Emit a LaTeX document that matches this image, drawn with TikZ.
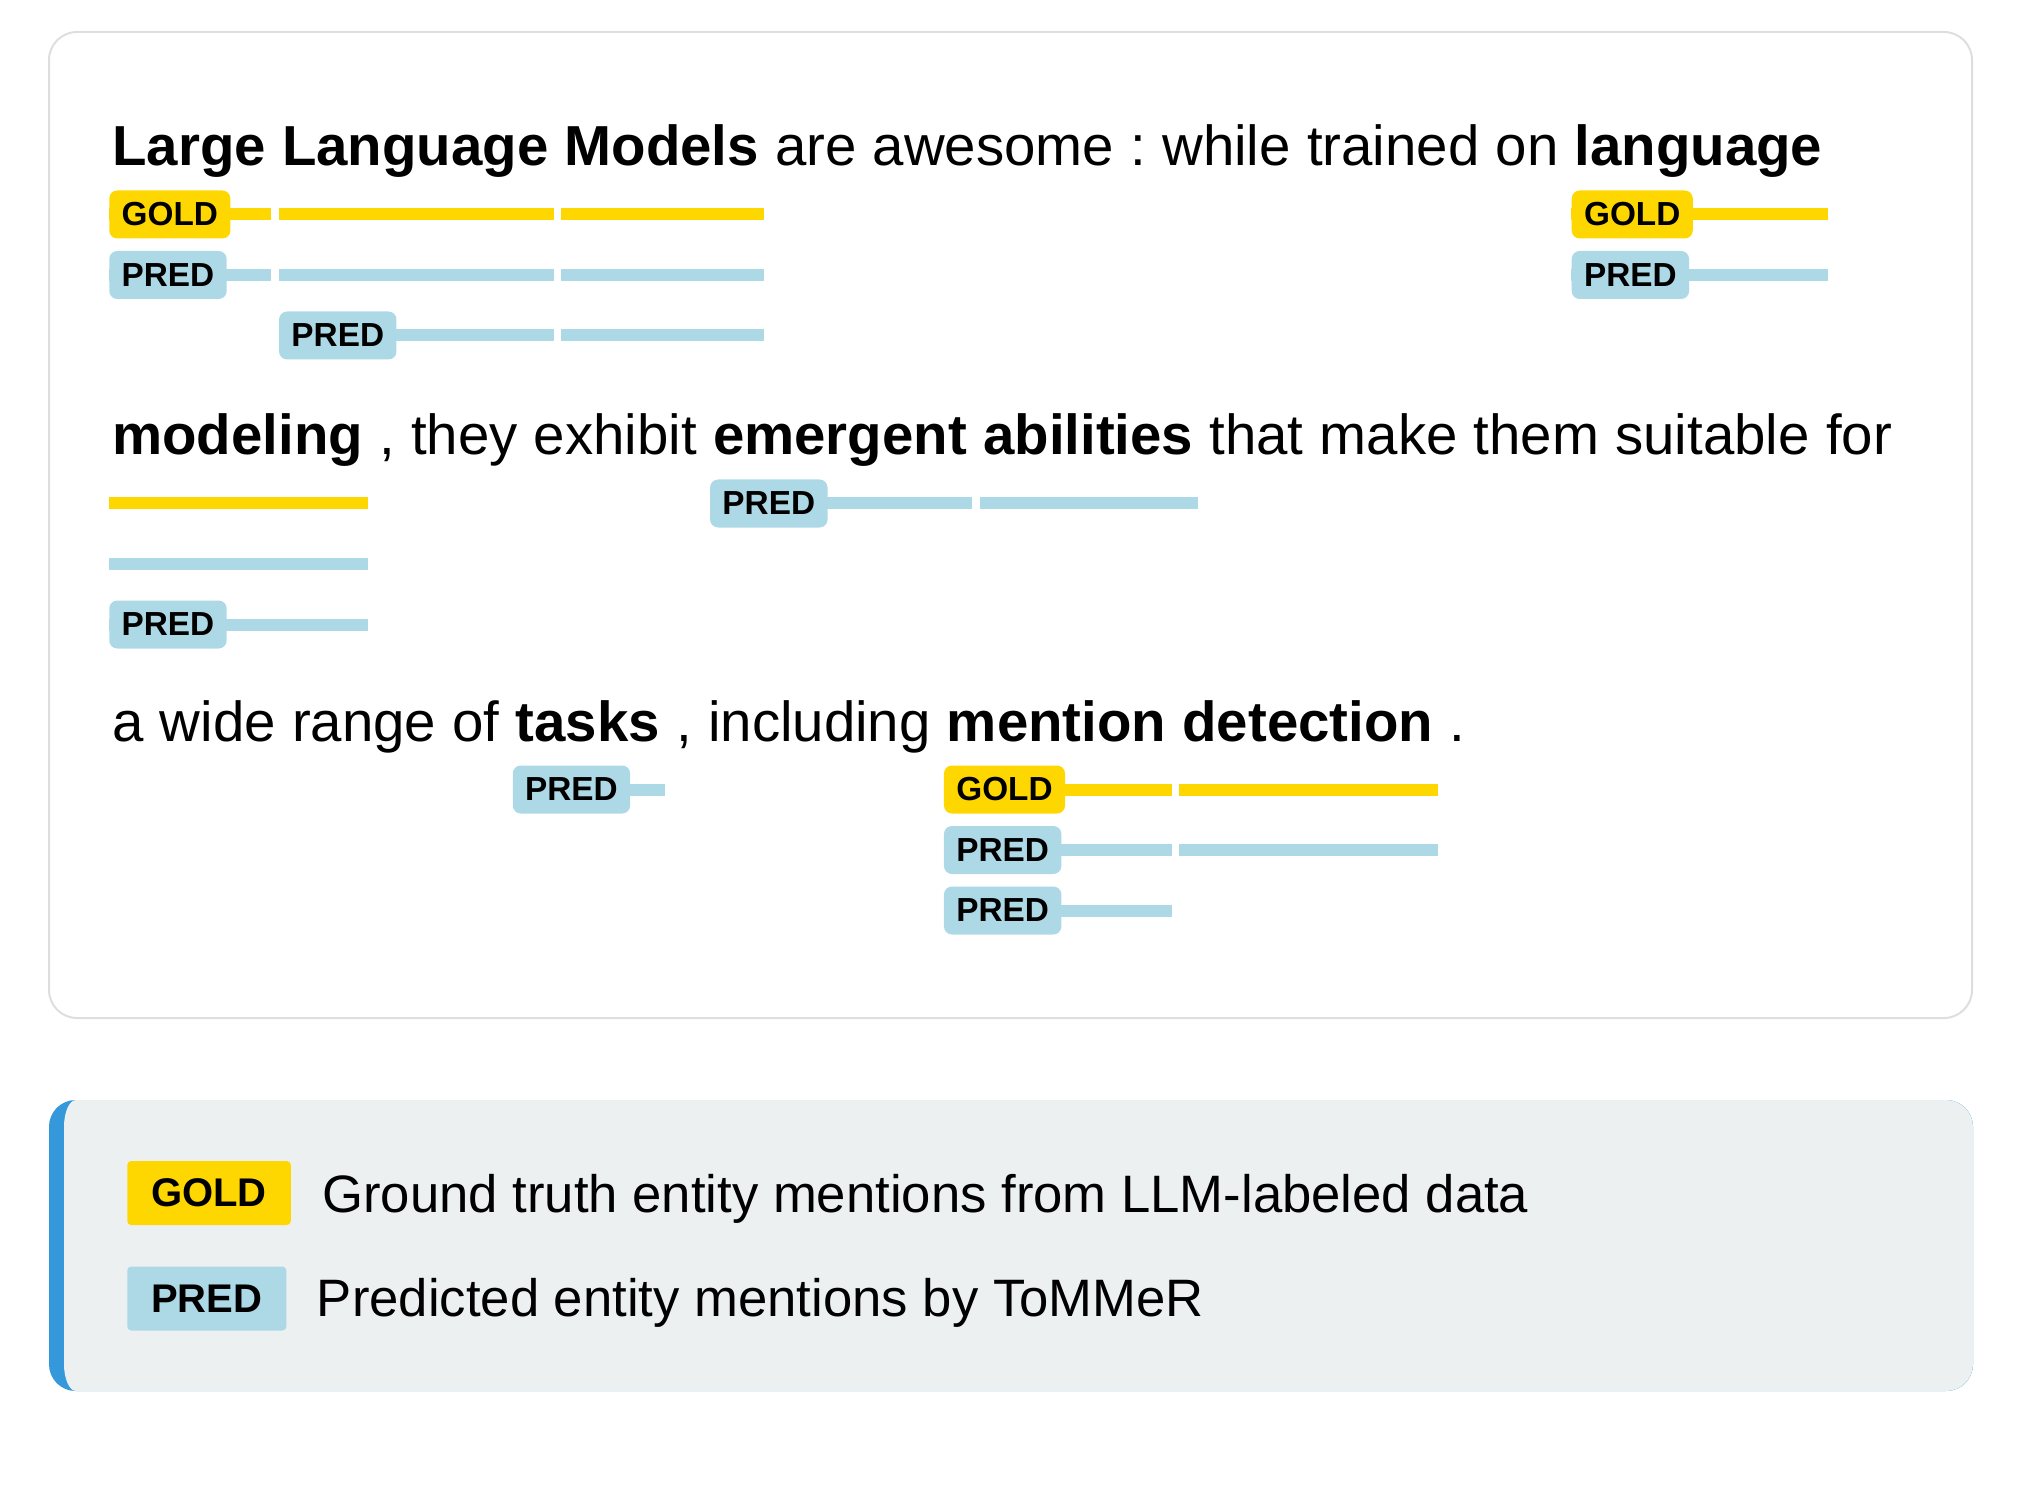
\documentclass[tikz,border=0pt]{standalone}
\usepackage{fontspec}
\setmainfont{Liberation Sans}
\usetikzlibrary{positioning}

\definecolor{goldc}{HTML}{FFD700}
\definecolor{predc}{HTML}{ADD8E6}
\definecolor{legblue}{HTML}{3498DB}
\definecolor{leggray}{HTML}{ECF0F1}
\definecolor{boxgray}{HTML}{DEDEDE}

\newcommand\txtfont{\fontsize{42.3pt}{50pt}\selectfont}
\newcommand\tagfont{\fontsize{25pt}{30pt}\selectfont\bfseries}
\newcommand\legtagfont{\fontsize{30pt}{36pt}\selectfont\bfseries}
\newcommand\legfont{\fontsize{39.5pt}{46pt}\selectfont}
\newcommand\wsp{11.76pt}
\newcommand\rowA{48.5}
\newcommand\rowB{109}
\newcommand\rowC{169.5}

% bar under one token: style, token, row
\newcommand\mbar[3]{\draw[#1] ([shift={(-3,#3)}]#2.base west) -- ([shift={(5,#3)}]#2.base east);}

\tikzset{
  wd/.style={inner sep=0pt, font=\txtfont},
  bwd/.style={inner sep=0pt, font=\txtfont\bfseries},
  goldline/.style={draw=goldc, line width=9pt},
  predline/.style={draw=predc, line width=9pt},
  goldtag/.style={fill=goldc, rounded corners=6pt, font=\tagfont, inner xsep=9.3pt, inner ysep=0pt, minimum height=36pt, anchor=west},
  predtag/.style={goldtag, fill=predc},
  leggold/.style={fill=goldc, rounded corners=3pt, font=\legtagfont, inner xsep=18pt, inner ysep=0pt, minimum height=48pt, anchor=west},
  legpred/.style={leggold, fill=predc},
  legtxt/.style={inner sep=0pt, font=\legfont, anchor=base west}
}

\begin{document}
\begin{tikzpicture}[x=0.75pt, y=-0.75pt]
\useasboundingbox (0,0) rectangle (2025,1494);

% sentence box
\draw[boxgray, line width=1.5pt, rounded corners=21pt] (49,32) rectangle (1972,1018);

% line 1
\node[bwd, anchor=base west] (large) at (112,166) {Large};
\node[bwd, base right=\wsp of large] (langa) {Language};
\node[bwd, base right=\wsp of langa] (models) {Models};
\node[wd, base right=\wsp of models] (are) {are};
\node[wd, base right=\wsp of are] (awesome) {awesome};
\node[wd, base right=\wsp of awesome] (colon) {:};
\node[wd, base right=\wsp of colon] (while) {while};
\node[wd, base right=\wsp of while] (trained) {trained};
\node[wd, base right=\wsp of trained] (on) {on};
\node[bwd, base right=\wsp of on] (langb) {language};

% line 2
\node[bwd, anchor=base west] (modeling) at (112,455) {modeling};
\node[wd, base right=\wsp of modeling] (comma) {,};
\node[wd, base right=\wsp of comma] (they) {they};
\node[wd, base right=\wsp of they] (exhibit) {exhibit};
\node[bwd, base right=\wsp of exhibit] (emergent) {emergent};
\node[bwd, base right=\wsp of emergent] (abilities) {abilities};
\node[wd, base right=\wsp of abilities] (that) {that};
\node[wd, base right=\wsp of that] (make) {make};
\node[wd, base right=\wsp of make] (them) {them};
\node[wd, base right=\wsp of them] (suitable) {suitable};
\node[wd, base right=\wsp of suitable] (for) {for};

% line 3
\node[wd, anchor=base west] (a) at (112,741) {a};
\node[wd, base right=\wsp of a] (wide) {wide};
\node[wd, base right=\wsp of wide] (range) {range};
\node[wd, base right=\wsp of range] (of) {of};
\node[bwd, base right=\wsp of of] (tasks) {tasks};
\node[wd, base right=\wsp of tasks] (commb) {,};
\node[wd, base right=\wsp of commb] (including) {including};
\node[bwd, base right=\wsp of including] (mention) {mention};
\node[bwd, base right=\wsp of mention] (detection) {detection};
\node[wd, base right=\wsp of detection] (period) {.};

% bars
\foreach \t in {large,langa,models}
{
  \mbar{goldline}{\t}{\rowA}
  \mbar{predline}{\t}{\rowB}
}
\foreach \t in {langa,models}
{
  \mbar{predline}{\t}{\rowC}
}
\mbar{goldline}{langb}{\rowA}
\mbar{predline}{langb}{\rowB}

\mbar{goldline}{modeling}{\rowA}
\mbar{predline}{modeling}{\rowB}
\mbar{predline}{modeling}{\rowC}
\foreach \t in {emergent,abilities}
{
  \mbar{predline}{\t}{\rowA}
}

\mbar{predline}{tasks}{\rowA}
\foreach \t in {mention,detection}
{
  \mbar{goldline}{\t}{\rowA}
  \mbar{predline}{\t}{\rowB}
}
\mbar{predline}{mention}{\rowC}

% tags
\node[goldtag] (tgA) at ([shift={(-3,\rowA)}]large.base west) {GOLD};
\node[predtag] (tpA) at ([shift={(-3,\rowB)}]large.base west) {PRED};
\node[predtag] (tpB) at ([shift={(-3,\rowC)}]langa.base west) {PRED};
\node[goldtag] (tgB) at ([shift={(-3,\rowA)}]langb.base west) {GOLD};
\node[predtag] (tpC) at ([shift={(-3,\rowB)}]langb.base west) {PRED};
\node[predtag] (tpD) at ([shift={(-3,\rowC)}]modeling.base west) {PRED};
\node[predtag] (tpE) at ([shift={(-3,\rowA)}]emergent.base west) {PRED};
\node[predtag] (tpF) at ([shift={(-3,\rowA)}]tasks.base west) {PRED};
\node[goldtag] (tgC) at ([shift={(-3,\rowA)}]mention.base west) {GOLD};
\node[predtag] (tpG) at ([shift={(-3,\rowB)}]mention.base west) {PRED};
\node[predtag] (tpH) at ([shift={(-3,\rowC)}]mention.base west) {PRED};

% legend
\fill[legblue, rounded corners=20pt] (49,1100) rectangle (1973,1391);
\fill[leggray] (64,1364) -- (64,1127) arc[start angle=180, end angle=270, x radius=12, y radius=27]
  -- (1946,1100) arc[start angle=270, end angle=360, radius=27]
  -- (1973,1364) arc[start angle=0, end angle=90, radius=27]
  -- (76,1391) arc[start angle=90, end angle=180, x radius=12, y radius=27] -- cycle;

\node[leggold] (lgold) at (127,1193) {GOLD};
\node[legpred] (lpred) at (127,1298.5) {PRED};
\node[legtxt] (lgoldtxt) at ([shift={(31,19)}]lgold.east) {Ground truth entity mentions from LLM-labeled data};
\node[legtxt] (lpredtxt) at ([shift={(30,18)}]lpred.east) {Predicted entity mentions by ToMMeR};
\end{tikzpicture}
\end{document}
